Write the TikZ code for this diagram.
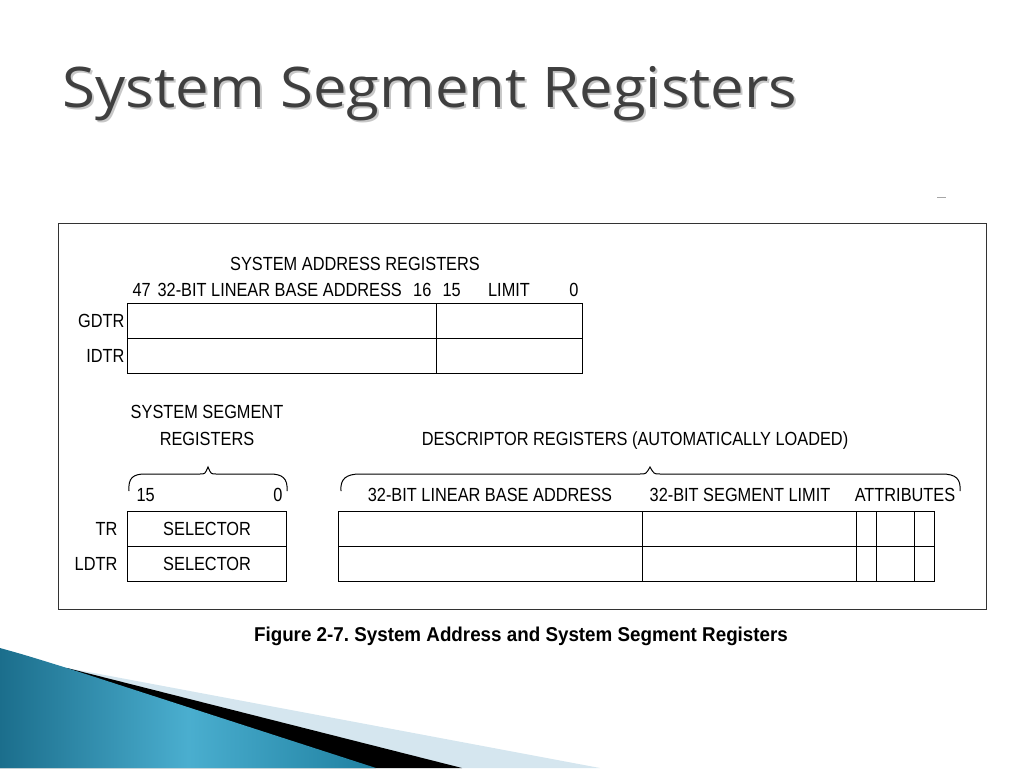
\documentclass[tikz,border=0pt]{standalone}
\usepackage{fontspec}
\setmainfont{Liberation Sans}
\newfontfamily\diagfont[FakeStretch=0.86]{Liberation Sans}
\newfontfamily\capfont[FakeStretch=0.94]{Liberation Sans}
\newfontfamily\titlefont[FakeStretch=1.07]{Open Sans}
\usetikzlibrary{positioning}
\definecolor{ttlgray}{HTML}{3f3f3f}
\definecolor{wedgedark}{HTML}{1b6e8c}
\definecolor{wedgemid}{HTML}{4aaecf}
\definecolor{wedgeend}{HTML}{1f80a0}
\definecolor{wedgelight}{HTML}{d5e6ef}

\begin{document}
\begin{tikzpicture}[x=1pt,y=-1pt,font=\diagfont\fontsize{19}{21}\selectfont,line width=1.2pt]
  \tikzstyle{cell}=[draw,inner sep=0,minimum height=35pt,anchor=north west]
  \tikzstyle{lbl}=[inner sep=0]
  \tikzstyle{hd}=[inner sep=0,anchor=base]
  \tikzstyle{ttlfont}=[font=\titlefont\fontsize{56}{62}\selectfont]
  \useasboundingbox (0,0) rectangle (1024,768);
  % bottom left wedge
  \fill[wedgelight] (67,668) -- (110,676) -- (600,768) -- (0,768) -- cycle;
  \fill[black] (67,668) -- (462,768) -- (0,768) -- cycle;
  \shade[left color=wedgedark,right color=wedgeend,middle color=wedgemid]
    (0,648) .. controls (25,655) .. (67,668) -- (376,768) -- (0,768) -- cycle;
  % title
  \node[anchor=base west,inner sep=0,text=black!22,ttlfont] (ttlshadow) at (64,109) {System Segment Registers};
  \node[anchor=base west,inner sep=0,text=ttlgray,ttlfont] (ttl) at (62,107) {System Segment Registers};
  \draw[black!35,line width=1pt] (937,197) -- (946,197);
  % frame
  \node[draw=black!80,line width=1.3pt,inner sep=0,minimum width=928pt,minimum height=386pt,anchor=north west] (frame) at (58,223) {};
  % system address registers
  \node[hd] (sar) at (355,270) {SYSTEM ADDRESS REGISTERS};
  \node[hd,anchor=base west] (b47) at (132,296) {47};
  \node[hd,anchor=base west] (baseaddr) at (157,296) {32-BIT LINEAR BASE ADDRESS};
  \node[hd,anchor=base east] (b16) at (432,296) {16};
  \node[hd,anchor=base west] (b15) at (442,296) {15};
  \node[hd] (limit) at (509,296) {LIMIT};
  \node[hd] (b0) at (574,296) {0};
  \node[cell,minimum width=309pt] (gdtrbase) at (127,303) {};
  \node[cell,minimum width=146pt] (gdtrlim) at (436,303) {};
  \node[cell,minimum width=309pt] (idtrbase) at (127,338) {};
  \node[cell,minimum width=146pt] (idtrlim) at (436,338) {};
  \node[lbl,left=2pt of gdtrbase] (gdtr) {GDTR};
  \node[lbl,left=2pt of idtrbase] (idtr) {IDTR};
  % system segment registers
  \node[hd] (ssr1) at (207,418) {SYSTEM SEGMENT};
  \node[hd] (ssr2) at (207,445) {REGISTERS};
  \draw[line width=1pt] (129,491) .. controls (128,478) and (133,474) .. (145,474) -- (200,474)
    .. controls (205,474) .. (208,467) .. controls (211,474) .. (216,474) -- (270,474)
    .. controls (282,474) and (288,478) .. (287,491);
  \node[hd,anchor=base west] (s15) at (136,501) {15};
  \node[hd,anchor=base east] (s0) at (283,501) {0};
  \node[cell,minimum width=159pt] (trsel) at (127,511) {SELECTOR};
  \node[cell,minimum width=159pt] (ldtrsel) at (127,546) {SELECTOR};
  \node[lbl,left=9pt of trsel] (tr) {TR};
  \node[lbl,left=9pt of ldtrsel] (ldtr) {LDTR};
  % descriptor registers
  \node[hd] (dr) at (635,445) {DESCRIPTOR REGISTERS (AUTOMATICALLY LOADED)};
  \draw[line width=1pt] (341,491) .. controls (340,479) and (346,474) .. (360,474) -- (640,474)
    .. controls (646,474) .. (650,467) .. controls (654,474) .. (660,474) -- (942,474)
    .. controls (956,474) and (961,479) .. (960,491);
  \node[hd] (dbase) at (490,501) {32-BIT LINEAR BASE ADDRESS};
  \node[hd] (dlimit) at (740,501) {32-BIT SEGMENT LIMIT};
  \node[hd] (dattr) at (905,501) {ATTRIBUTES};
  \foreach \r/\y in {a/511,b/546} {
    \node[cell,minimum width=304pt] (dbase\r) at (338,\y) {};
    \node[cell,minimum width=214pt] (dlim\r) at (642,\y) {};
    \node[cell,minimum width=20pt] (dat1\r) at (856,\y) {};
    \node[cell,minimum width=38pt] (dat2\r) at (876,\y) {};
    \node[cell,minimum width=20pt] (dat3\r) at (914,\y) {};
  }
  % caption
  \node[hd,font=\capfont\bfseries\fontsize{20}{22}\selectfont] (cap) at (521,641) {Figure 2-7.\ System Address and System Segment Registers};
\end{tikzpicture}
\end{document}
